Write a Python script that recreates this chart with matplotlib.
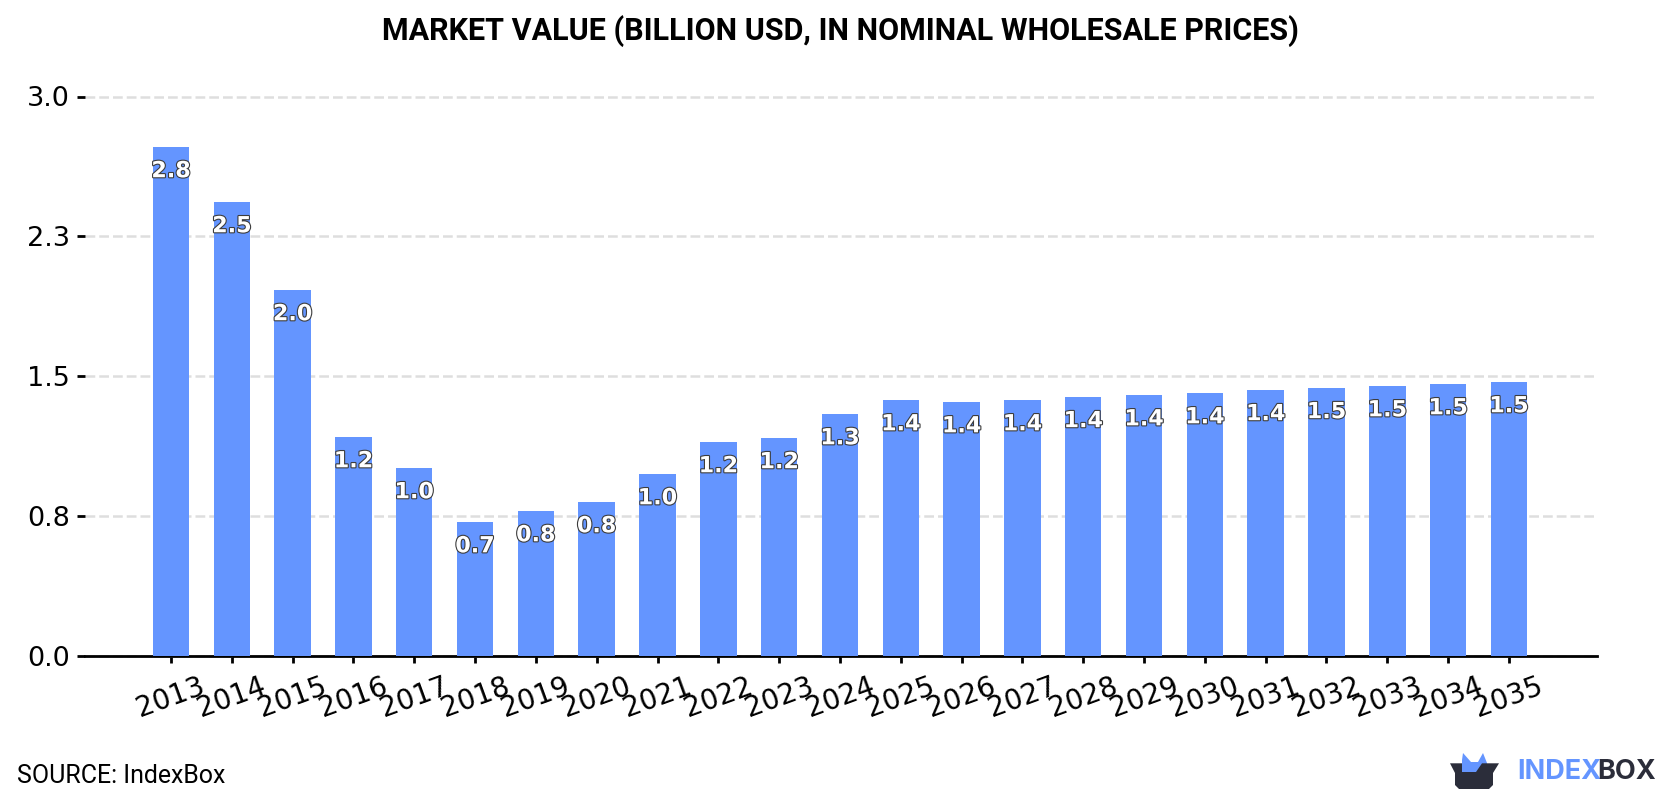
import matplotlib
matplotlib.use("Agg")
import matplotlib.pyplot as plt
import matplotlib.patheffects as pe
from matplotlib.patches import Polygon

years = [str(y) for y in range(2013, 2036)]
values = [2.766, 2.467, 1.989, 1.190, 1.022, 0.728, 0.788, 0.837, 0.989, 1.163, 1.185,
          1.315, 1.391, 1.380, 1.391, 1.408, 1.418, 1.429, 1.446, 1.457, 1.467, 1.478, 1.489]
y_ticks = [0.0, 0.76, 1.52, 2.28, 3.04]
title = "MARKET VALUE (BILLION USD, IN NOMINAL WHOLESALE PRICES)"
source = "SOURCE: IndexBox"

BLUE = "#6495FF"
DARK = "#2B2D3A"
W, H = 1680, 800


def fx(px):
    return px / W


def fy(px):
    return 1 - px / H


def fig_poly(points, color):
    return Polygon([(fx(x), fy(y)) for x, y in points], closed=True,
                   transform=fig.transFigure, facecolor=color, edgecolor="none")


fig = plt.figure(figsize=(16.8, 8), dpi=100, facecolor="white")
ax = fig.add_axes([fx(85), fy(656), (1596.5 - 85) / W, (656 - 96.5) / H])

positions = list(range(len(years)))
ax.bar(positions, values, width=0.6, color=BLUE, zorder=3)

ax.set_xlim(-1.414, 23.44)
ax.set_ylim(0, y_ticks[-1])

for s in ("top", "right", "left"):
    ax.spines[s].set_visible(False)
ax.spines["bottom"].set_linewidth(2.0)
ax.spines["bottom"].set_color("black")

ax.set_yticks(y_ticks)
ax.set_yticklabels([f"{t:.1f}" for t in y_ticks], fontsize=19.5, family="DejaVu Sans")
ax.set_xticks(positions)
ax.set_xticklabels(years, rotation=20, ha="center", fontsize=20, family="DejaVu Sans")
ax.tick_params(axis="y", length=6, width=2, pad=5, color="black")
ax.tick_params(axis="x", length=5, width=2, pad=6.5, color="black")

ax.yaxis.grid(True, color="#DEDEDE", linewidth=1.8, linestyle=(0, (3.9, 1.6)), zorder=0)
ax.xaxis.grid(False)
for line in ax.get_ygridlines():
    line.set_clip_on(False)
ax.set_axisbelow(True)

# Value labels sit just under the top of each bar
outline = [pe.withStroke(linewidth=1.6, foreground="#3C3C3C")]
for x, v in zip(positions, values):
    ax.annotate(f"{v:.1f}", (x, v), xytext=(0, -17.5), textcoords="offset points",
                ha="center", va="center", fontsize=16, fontweight="bold",
                family="DejaVu Sans", color="white", path_effects=outline,
                zorder=5, annotation_clip=False)

fig.text(0.5, fy(31), title, ha="center", va="center", fontsize=22,
         fontweight="bold", family="Roboto", color="black")
fig.text(fx(17), fy(776), source, ha="left", va="center", fontsize=17.9,
         family="Roboto", color="black")

# Brand mark: crown rising out of an open box
fig.add_artist(fig_poly([(1462, 772), (1462, 760), (1463, 753), (1471, 762), (1478, 762),
                         (1483, 753), (1487, 763), (1487, 772)], BLUE))
fig.add_artist(fig_poly([(1450, 763.3), (1462, 763.3), (1462, 772), (1476, 772), (1482, 763.3),
                         (1499, 763.3), (1493, 773), (1493, 785), (1489, 789), (1459, 789),
                         (1455, 785), (1455, 773)], DARK))

fig.text(fx(1517), fy(772), "INDEX", ha="left", va="center", fontsize=19.5,
         fontweight="bold", family="Inter", color=BLUE)
fig.text(fx(1597), fy(772), "BOX", ha="left", va="center", fontsize=19.5,
         fontweight="bold", family="Inter", color=DARK)

fig.savefig("out.png", dpi=100, facecolor="white")
